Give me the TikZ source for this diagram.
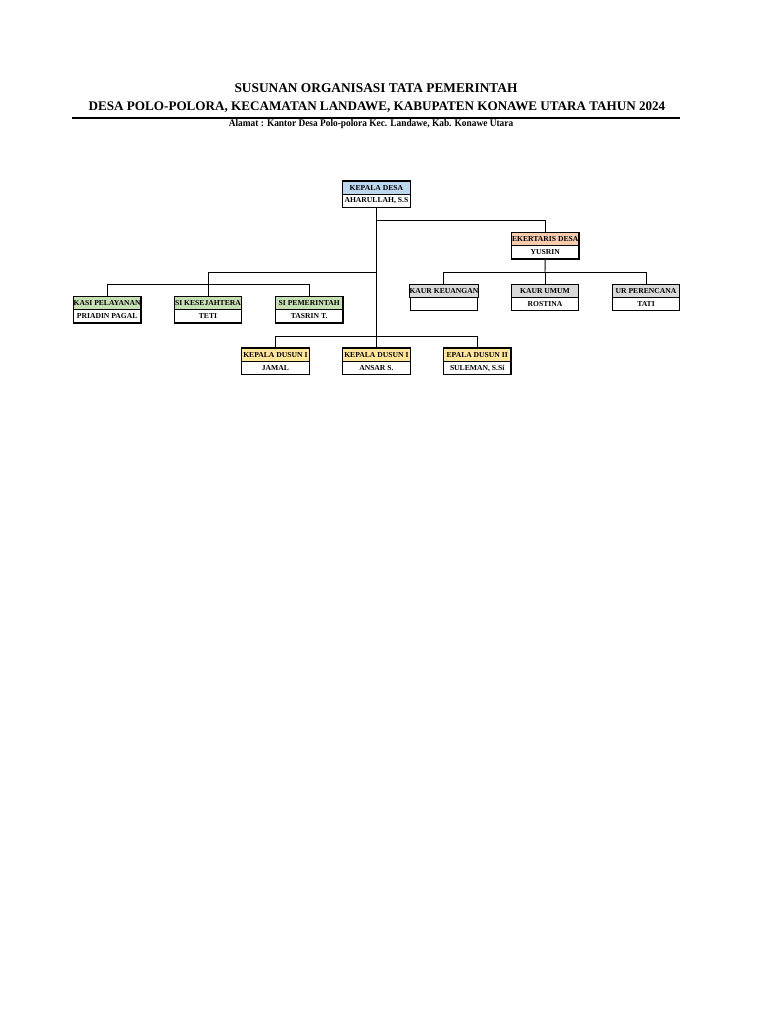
\documentclass[tikz,border=0pt]{standalone}
\usepackage{fontspec}
\setmainfont{Liberation Serif}
\usetikzlibrary{positioning}
\definecolor{biru}{HTML}{BDD7EE}
\definecolor{oranye}{HTML}{F8CBAD}
\definecolor{hijau}{HTML}{C6E0B4}
\definecolor{abu}{HTML}{D9D9D9}
\definecolor{kuning}{HTML}{FFE699}
\tikzstyle{jabatan} = [rectangle, minimum width=2.025cm, minimum height=0.4cm, inner sep=0pt, outer sep=0pt, text centered, draw=black, line width=1pt, font=\fontsize{6.5}{7}\selectfont\bfseries]
\tikzstyle{nama} = [jabatan, fill=white]
\tikzstyle{garis} = [line width=0.8pt]

\begin{document}
\begin{tikzpicture}[x=0.03cm, y=-0.03cm, node distance=0pt]
\useasboundingbox[fill=white] (0,0) rectangle (768,1024);

% Judul
\node (judul1) at (376,88) {\fontsize{11.4}{13}\selectfont\bfseries SUSUNAN ORGANISASI TATA PEMERINTAH};
\node (judul2) at (377,107) {\fontsize{11.2}{13}\selectfont\bfseries DESA POLO-POLORA, KECAMATAN LANDAWE, KABUPATEN KONAWE UTARA TAHUN 2024};
\draw [line width=1.2pt] (72,118) -- (680,118);
\node (alamat) at (371,124.5) {\scalebox{0.93}[1]{\fontsize{8.6}{9}\selectfont\bfseries Alamat : Kantor Desa Polo-polora Kec. Landawe, Kab. Konawe Utara}};

% Kepala desa dan sekertaris
\node (kades) [jabatan, fill=biru] at (376.4,187.6) {KEPALA DESA};
\node (kadesnm) [nama, below=of kades] {AHARULLAH, S.S};
\node (sekdes) [jabatan, fill=oranye] at (545.2,239) {EKERTARIS DESA};
\node (sekdesnm) [nama, below=of sekdes] {YUSRIN};

% Kasi
\node (kasi1) [jabatan, fill=hijau] at (107.2,303) {KASI PELAYANAN};
\node (kasi1nm) [nama, below=of kasi1] {PRIADIN PAGAL};
\node (kasi2) [jabatan, fill=hijau] at (208,303) {SI KESEJAHTERA};
\node (kasi2nm) [nama, below=of kasi2] {TETI};
\node (kasi3) [jabatan, fill=hijau] at (309.2,303) {SI PEMERINTAH};
\node (kasi3nm) [nama, below=of kasi3] {TASRIN T.};

% Kaur
\node (kaur1) [jabatan, fill=abu] at (443.9,290.8) {KAUR KEUANGAN};
\node (kaur1nm) [nama, below=of kaur1] {};
\node (kaur2) [jabatan, fill=abu] at (545,290.8) {KAUR UMUM};
\node (kaur2nm) [nama, below=of kaur2] {ROSTINA};
\node (kaur3) [jabatan, fill=abu] at (646,290.8) {UR PERENCANA};
\node (kaur3nm) [nama, below=of kaur3] {TATI};

% Kepala dusun
\node (dusun1) [jabatan, fill=kuning] at (275.4,354.7) {KEPALA DUSUN I};
\node (dusun1nm) [nama, below=of dusun1] {JAMAL};
\node (dusun2) [jabatan, fill=kuning] at (376.4,354.7) {KEPALA DUSUN I};
\node (dusun2nm) [nama, below=of dusun2] {ANSAR S.};
\node (dusun3) [jabatan, fill=kuning] at (477.2,354.7) {EPALA DUSUN II};
\node (dusun3nm) [nama, below=of dusun3] {SULEMAN, S.Si};

% Titik cabang
\coordinate (cabsek) at (kadesnm.south |- 0,220);
\coordinate (cabkasi) at (kadesnm.south |- 0,272.3);
\coordinate (buskasi) at (kasi2.north |- 0,284.2);
\coordinate (buskaur) at (kaur2.north |- 0,272.3);
\coordinate (busdusun) at (kadesnm.south |- 0,336.7);

% Garis utama
\draw [garis] (kadesnm.south) -- (busdusun);
\draw [garis] (cabsek) -| (sekdes.north);
\draw [garis] (sekdesnm.south) -- (buskaur);

% Cabang kaur
\draw [garis] (kaur1.north) |- (buskaur) -| (kaur3.north);
\draw [garis] (buskaur) -- (kaur2.north);

% Cabang kasi
\draw [garis] (cabkasi) -| (buskasi);
\draw [garis] (kasi1.north) |- (buskasi) -| (kasi3.north);
\draw [garis] (buskasi) -- (kasi2.north);

% Cabang dusun
\draw [garis] (dusun1.north) |- (busdusun) -| (dusun3.north);
\draw [garis] (busdusun) -- (dusun2.north);

\end{tikzpicture}
\end{document}
